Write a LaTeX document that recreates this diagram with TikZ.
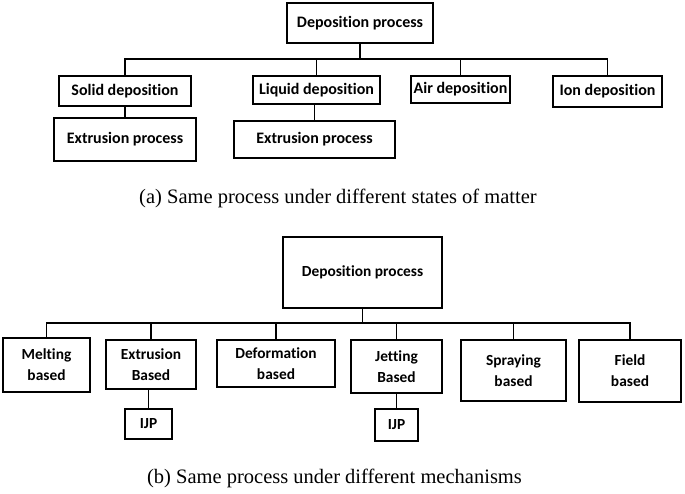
\documentclass[tikz,border=0pt]{standalone}
\usepackage{fontspec}
\setmainfont{Liberation Serif}
\newfontfamily\boxfont[Ligatures=NoCommon]{Carlito}
\usepackage{tikz}
\usetikzlibrary{positioning,calc}

\begin{document}
\begin{tikzpicture}[x=1pt,y=-1pt,
      box/.style={draw=black,line width=2pt,fill=white,inner sep=2pt,
                  font=\boxfont\bfseries\fontsize{16}{21}\selectfont,align=center},
      boxb/.style={box,font=\boxfont\bfseries\fontsize{15.4}{21}\selectfont},
      link/.style={draw=black,line width=1.8pt},
      captext/.style={font=\fontsize{20.5}{24}\selectfont}
    ]
      \useasboundingbox (0,0) rectangle (685,493);
      % (a) states of matter
      \node[box,minimum width=146pt,minimum height=40pt] (dpa) at (360,23) {Deposition process};
      \node[box,minimum width=132pt,minimum height=30pt] (sd) at (125,91) {Solid deposition};
      \node[box,minimum width=127pt,minimum height=28pt] (ld) at (316.5,90) {Liquid deposition};
      \node[box,minimum width=99pt,minimum height=27pt] (ad) at (460.5,89.5) {Air deposition};
      \node[box,minimum width=109pt,minimum height=31pt] (id) at (607.5,91.5) {Ion deposition};
      \node[box,minimum width=142pt,minimum height=43pt] (epa) at (125,139.5) {Extrusion process};
      \node[box,minimum width=161pt,minimum height=37pt] (epb) at (314.5,139.5) {Extrusion process};
      \coordinate (busa) at (360,59);
      \draw[link] (dpa.south) -- (busa);
      \draw[link] (busa) -| (sd.north);
      \draw[link] (busa) -| (ld.north);
      \draw[link] (busa) -| (ad.north);
      \draw[link] (busa) -| (id.north);
      \draw[link] (sd.south) -- (sd.south |- epa.north);
      \draw[link] (ld.south -| epb.north) -- (epb.north);
      \node[captext] (capa) at (338,198) {(a) Same process under different states of matter};
      % (b) mechanisms
      \node[boxb,minimum width=159pt,minimum height=71pt] (dpb) at (362.5,272.5) {Deposition process};
      \node[boxb,minimum width=87pt,minimum height=54pt] (mb) at (46.5,365) {Melting\\based};
      \node[boxb,minimum width=90pt,minimum height=49pt] (eb) at (151,364.5) {Extrusion\\Based};
      \node[boxb,minimum width=118pt,minimum height=47pt] (fb) at (276,363.5) {Deformation\\based};
      \node[boxb,minimum width=91pt,minimum height=53pt] (jb) at (396.5,366.5) {Jetting\\Based};
      \node[boxb,minimum width=105pt,minimum height=61pt] (sb) at (513.5,370.5) {Spraying\\based};
      \node[boxb,minimum width=102pt,minimum height=62pt] (fdb) at (630,371) {Field\\based};
      \node[boxb,minimum width=47pt,minimum height=30pt] (ijpa) at (148.5,424) {IJP};
      \node[boxb,minimum width=43pt,minimum height=32pt] (ijpb) at (396.5,425) {IJP};
      \coordinate (busb) at (362.5,323);
      \draw[link] (dpb.south) -- (busb);
      \draw[link] (busb) -| (mb.north);
      \draw[link] (busb) -| (eb.north);
      \draw[link] (busb) -| (fb.north);
      \draw[link] (busb) -| (jb.north);
      \draw[link] (busb) -| (sb.north);
      \draw[link] (busb) -| (fdb.north);
      \draw[link] (eb.south -| ijpa.north) -- (ijpa.north);
      \draw[link] (jb.south) -- (ijpb.north);
      \node[captext] (capb) at (334.5,478) {(b) Same process under different mechanisms};
\end{tikzpicture}
\end{document}
